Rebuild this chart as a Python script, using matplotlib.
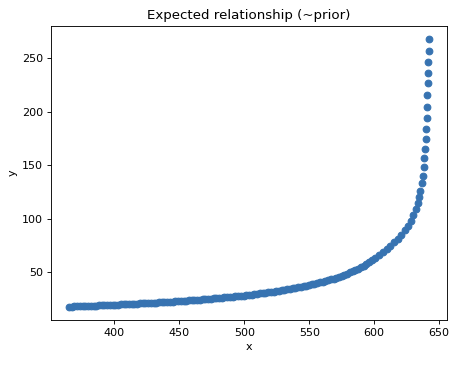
import matplotlib
matplotlib.use("Agg")
import matplotlib.pyplot as plt

# values
x_vals = [
    365.0, 367.1, 369.2, 371.3, 373.4, 375.5, 377.6, 379.7, 381.8, 383.9,
    386.0, 388.1, 390.2, 392.3, 394.4, 396.5, 398.6, 400.7, 402.8, 404.9,
    407.0, 409.1, 411.2, 413.3, 415.4, 417.5, 419.6, 421.7, 423.8, 425.9,
    428.0, 430.1, 432.2, 434.3, 436.4, 438.5, 440.6, 442.7, 444.8, 446.9,
    449.0, 451.1, 453.2, 455.3, 457.4, 459.5, 461.6, 463.7, 465.8, 467.9,
    470.0, 472.1, 474.2, 476.3, 478.4, 480.5, 482.6, 484.7, 486.8, 488.9,
    491.0, 493.1, 495.2, 497.3, 499.4, 501.5, 503.6, 505.7, 507.8, 509.9,
    512.0, 514.1, 516.2, 518.3, 520.4, 522.5, 524.6, 526.7, 528.8, 530.9,
    533.0, 535.1, 537.2, 539.3, 541.4, 543.5, 545.6, 547.7, 549.8, 551.9,
    554.0, 556.1, 558.2, 560.3, 562.4, 564.5, 566.6, 568.7, 570.8, 572.9,
    575.0, 577.1, 579.2, 581.3, 583.4, 585.5, 587.6, 589.7, 591.8, 593.9,
    596.0, 598.1,
    600.6, 603.5, 606.5, 609.5, 612.5, 615.5, 618.3, 621.0, 623.6, 626.0,
    628.2, 630.2, 632.0, 633.5, 634.6, 635.6, 636.5, 637.3, 638.0, 638.6,
    639.1, 639.6, 640.0, 640.3, 640.6, 640.9, 641.2, 641.45, 641.7, 641.95,
    642.2,
]
y_vals = [
    17.54, 17.64, 17.74, 17.84, 17.94, 18.04, 18.14, 18.24, 18.34, 18.45,
    18.56, 18.67, 18.78, 18.89, 19.00, 19.11, 19.22, 19.33, 19.46, 19.59,
    19.71, 19.84, 19.97, 20.09, 20.22, 20.35, 20.48, 20.62, 20.77, 20.92,
    21.06, 21.21, 21.36, 21.51, 21.66, 21.80, 21.96, 22.13, 22.31, 22.48,
    22.66, 22.83, 23.01, 23.18, 23.35, 23.53, 23.73, 23.94, 24.15, 24.36,
    24.57, 24.78, 24.99, 25.20, 25.41, 25.63, 25.88, 26.14, 26.39, 26.64,
    26.90, 27.15, 27.41, 27.66, 27.92, 28.22, 28.55, 28.87, 29.20, 29.52,
    29.85, 30.17, 30.50, 30.83, 31.17, 31.59, 32.01, 32.43, 32.85, 33.27,
    33.69, 34.11, 34.53, 34.95, 35.49, 36.08, 36.67, 37.26, 37.84, 38.43,
    39.02, 39.61, 40.20, 40.80, 41.49, 42.27, 43.05, 43.82, 44.64, 45.54,
    46.45, 47.48, 48.51, 49.60, 50.74, 51.90, 53.20, 54.50, 56.00, 57.50,
    59.10, 60.80,
    63.3, 65.8, 68.5, 71.4, 74.5, 77.8, 81.3, 85.0, 89.0, 93.3,
    98.0, 103.0, 108.5, 114.3, 120.5, 126.1, 133.0, 140.1, 148.0, 156.4,
    164.8, 174.2, 183.5, 193.8, 204.1, 215.4, 226.6, 236.5, 246.8, 257.1,
    267.7,
]

title_text = "Expected relationship (~prior)"
x_label = "x"
y_label = "y"

dpi = 80
fig = plt.figure(figsize=(474 / dpi, 367 / dpi), dpi=dpi)
ax = fig.add_axes([51 / 474, 47 / 367, 396 / 474, 294 / 367])
ax.scatter(x_vals, y_vals, s=36, color="#3773b1", zorder=2)
ax.set_title(title_text)
ax.set_xlabel(x_label)
ax.set_ylabel(y_label)
ax.set_xticks([400, 450, 500, 550, 600, 650])
ax.set_yticks([50, 100, 150, 200, 250])
fig.savefig("out.png", dpi=dpi)
